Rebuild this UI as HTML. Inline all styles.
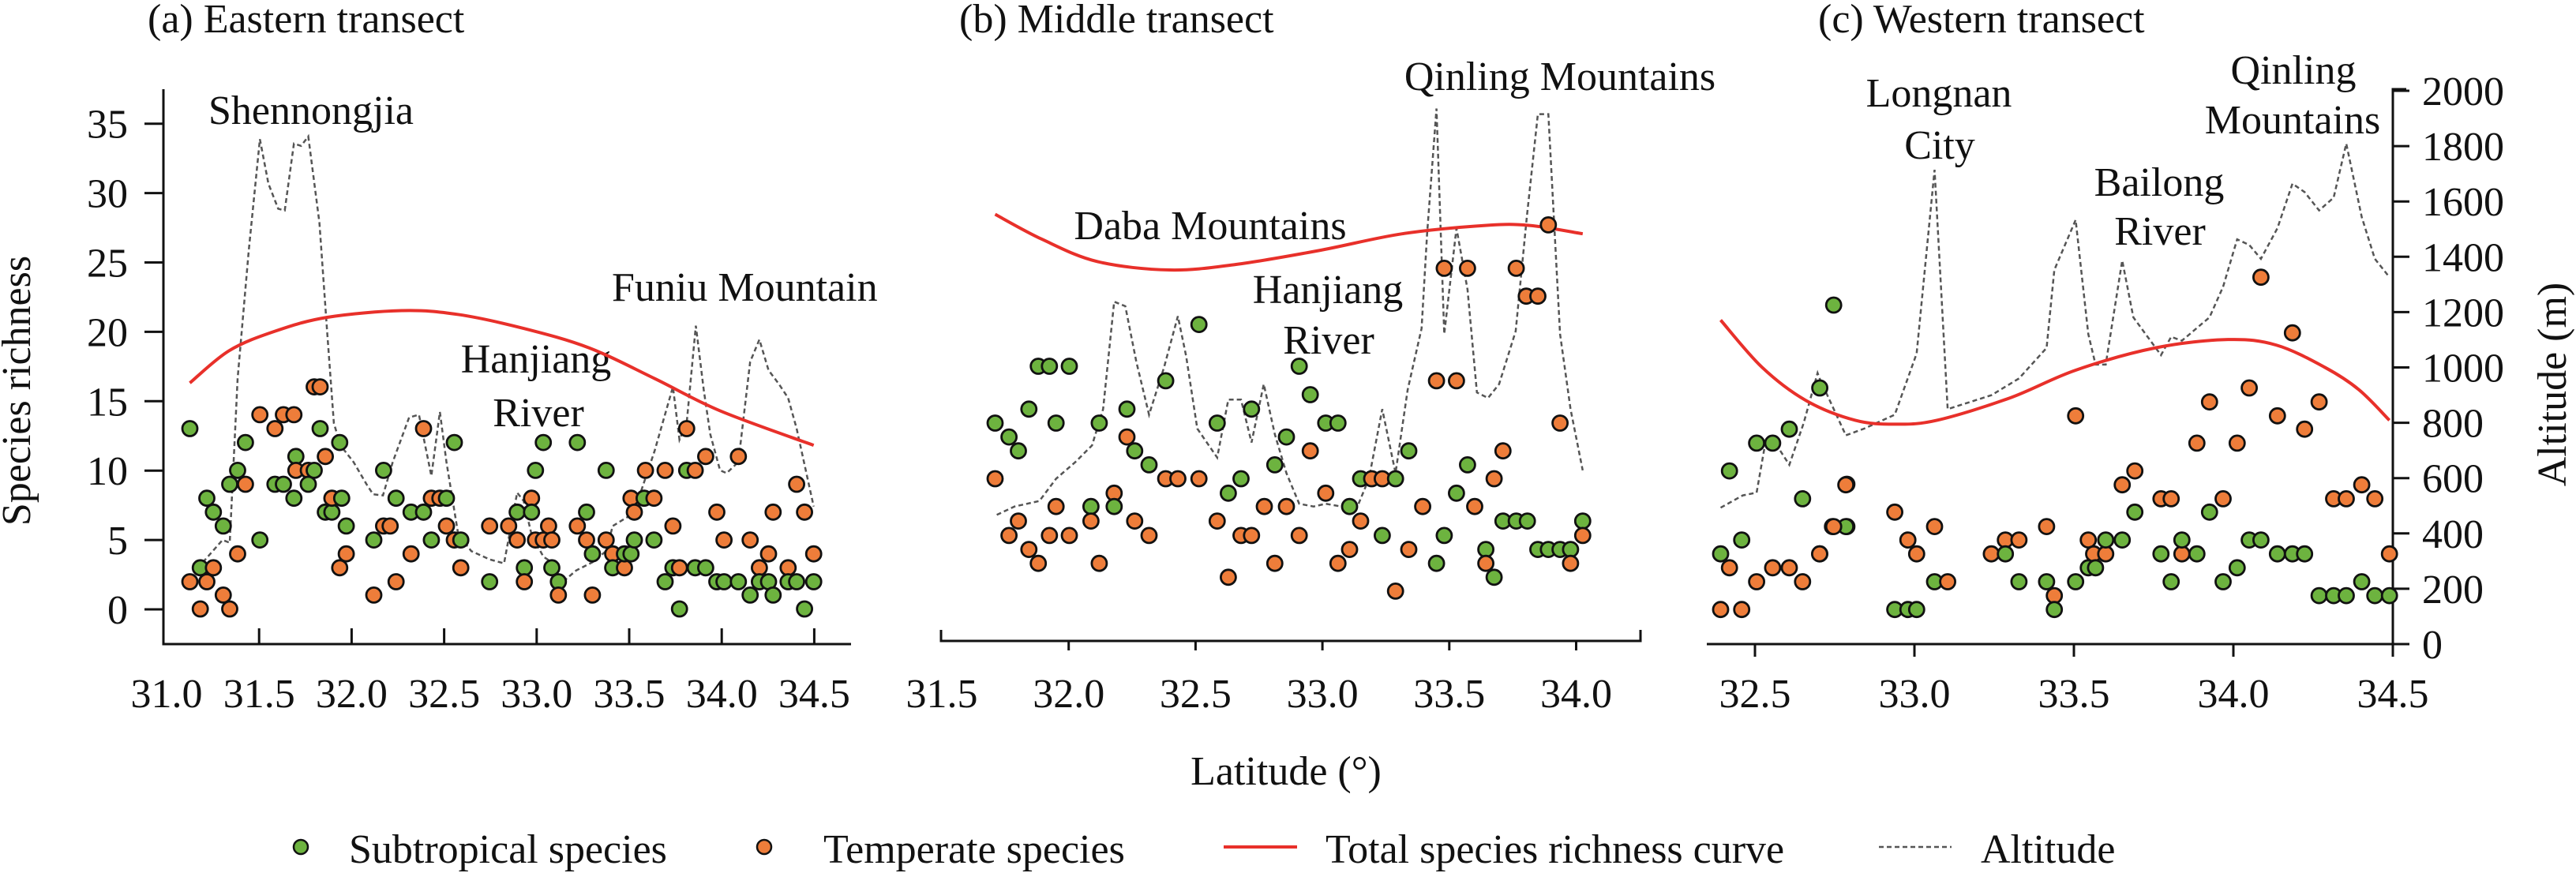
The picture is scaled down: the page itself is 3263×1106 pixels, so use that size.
<!DOCTYPE html>
<html><head><meta charset="utf-8"><style>
body{margin:0;background:#fff}
svg{display:block}
svg text{font-family:"Liberation Serif","DejaVu Serif","Times New Roman",serif;fill:#111}
</style></head><body>
<svg id="s" width="3263" height="1106" viewBox="0 0 3263 1106" xmlns="http://www.w3.org/2000/svg" font-family="Liberation Serif, DejaVu Serif, serif">
<g font-size="52">
<text x="187" y="41">(a) Eastern transect</text>
<text x="1215" y="41">(b) Middle transect</text>
<text x="2303" y="41">(c) Western transect</text>
<text x="264" y="157">Shennongjia</text>
<text x="775" y="381">Funiu Mountain</text>
<text x="679" y="472" text-anchor="middle">Hanjiang</text>
<text x="682" y="540" text-anchor="middle">River</text>
<text x="1976" y="114" text-anchor="middle">Qinling Mountains</text>
<text x="1533" y="303" text-anchor="middle">Daba Mountains</text>
<text x="1682" y="384" text-anchor="middle">Hanjiang</text>
<text x="1683" y="448" text-anchor="middle">River</text>
<text x="2456" y="135" text-anchor="middle">Longnan</text>
<text x="2457" y="201" text-anchor="middle">City</text>
<text x="2735" y="248" text-anchor="middle">Bailong</text>
<text x="2736" y="310" text-anchor="middle">River</text>
<text x="2905" y="106" text-anchor="middle">Qinling</text>
<text x="2904" y="169" text-anchor="middle">Mountains</text>
<text transform="translate(38,495) rotate(-90)" text-anchor="middle">Species richness</text>
<text transform="translate(3250,487) rotate(-90)" text-anchor="middle">Altitude (m)</text>
<text x="1629" y="994" text-anchor="middle">Latitude (°)</text>
<text x="442" y="1093">Subtropical species</text>
<text x="1043" y="1093">Temperate species</text>
<text x="1679" y="1093">Total species richness curve</text>
<text x="2509" y="1093">Altitude</text>
</g>
<g id="g"></g>
</svg>
<script>
var NS="http://www.w3.org/2000/svg",G=document.getElementById("g");
function el(n,a,t){var e=document.createElementNS(NS,n);for(var k in a)e.setAttribute(k,a[k]);if(t!==undefined)e.textContent=t;G.appendChild(e);return e;}
var ax={stroke:"#111","stroke-width":3,fill:"none"};
el("path",Object.assign({d:"M207,113V816H1078"},ax));
[0,5,10,15,20,25,30,35].forEach(function(v){var y=772-v*17.58;el("path",Object.assign({d:"M183,"+y+"H207"},ax));el("text",{x:162,y:y+18,"text-anchor":"end","font-size":52},String(v));});
for(var i=0;i<8;i++){var x=211+i*117.2;if(i>0)el("path",Object.assign({d:"M"+x+",816V796"},ax));el("text",{x:x,y:896,"text-anchor":"middle","font-size":52},(31+i*0.5).toFixed(1));}
el("path",Object.assign({d:"M1192,798V812H2078V798"},ax));
for(var i=0;i<6;i++){var x=1193+i*160.7;if(i>0)el("path",Object.assign({d:"M"+x+",812V824"},ax));el("text",{x:x,y:896,"text-anchor":"middle","font-size":52},(31.5+i*0.5).toFixed(1));}
el("path",Object.assign({d:"M2162,816H3031V113H3048"},ax));
for(var i=0;i<5;i++){var x=2223+i*202;el("path",Object.assign({d:"M"+x+",816V832"},ax));el("text",{x:x,y:896,"text-anchor":"middle","font-size":52},(32.5+i*0.5).toFixed(1));}
for(var i=0;i<=10;i++){var y=816-i*70.1;el("path",Object.assign({d:"M3031,"+y+"H3052"},ax));el("text",{x:3068,y:y+18,"font-size":52},String(i*200));}
function conv(arr,sx,ox){return arr.map(function(p){return [p[0]/sx+ox,p[1]/1.418];});}
function line(pts,style){el("path",Object.assign({d:"M"+pts.map(function(p){return p[0].toFixed(1)+","+p[1].toFixed(1);}).join("L"),fill:"none"},style));}
function smooth(p,style){var d="M"+p[0][0]+","+p[0][1];for(var i=0;i<p.length-1;i++){var p0=p[Math.max(0,i-1)],p1=p[i],p2=p[i+1],p3=p[Math.min(p.length-1,i+2)];var c1=[p1[0]+(p2[0]-p0[0])/6,p1[1]+(p2[1]-p0[1])/6],c2=[p2[0]-(p3[0]-p1[0])/6,p2[1]-(p3[1]-p1[1])/6];d+="C"+c1.join(",")+" "+c2.join(",")+" "+p2.join(",");}el("path",Object.assign({d:d,fill:"none"},style));}
var alt={stroke:"#555","stroke-width":2.5,"stroke-dasharray":"6,4"};
var red={stroke:"#e8302a","stroke-width":4};
var A=[["g",290,770],["o",290,1045],["g",306,1020],["o",306,1094],["o",316,1045],["g",316,895],["o",326,1020],["g",326,920],["g",341,945],["o",341,1069],["o",351,1094],["g",351,870],["g",363,845],["o",363,995],["g",375,795],["o",375,870],["g",397,970],["o",397,745],["o",420,770],["g",420,870],["o",433,745],["g",433,870],["o",449,745],["g",449,895],["g",452,820],["o",452,845],["o",471,845],["g",471,870],["g",480,845],["o",480,695],["o",489,695],["g",489,770],["o",497,820],["g",497,920],["g",507,920],["o",507,895],["g",519,795],["g",522,895],["o",519,1020],["o",529,995],["g",529,945],["g",571,970],["o",571,1069],["g",586,845],["o",586,945],["o",596,945],["g",605,895],["o",605,1045],["g",628,920],["o",628,995],["g",647,920],["o",647,770],["g",659,970],["o",659,895],["o",672,895],["g",682,895],["o",682,945],["g",694,795],["o",694,970],["g",704,970],["o",704,1020],["o",748,945],["g",748,1045],["o",777,945],["g",790,920],["o",790,970],["o",812,895],["g",812,920],["g",801,1020],["o",801,1045],["g",818,845],["o",818,970],["g",830,795],["o",830,970],["o",838,945],["o",843,970],["g",843,1020],["g",853,1045],["o",853,1069],["g",882,795],["o",882,945],["g",896,920],["o",896,970],["g",905,995],["o",905,1069],["g",926,845],["o",926,970],["o",936,995],["g",936,1020],["o",954,1020],["g",954,995],["g",964,995],["o",964,895],["g",969,970],["o",969,920],["g",984,895],["o",986,845],["o",999,895],["g",999,970],["o",1016,845],["g",1016,1045],["o",1028,945],["g",1028,1020],["o",1038,1020],["g",1038,1094],["g",1049,845],["o",1049,770],["o",1062,845],["g",1062,1020],["g",1078,1020],["o",1078,820],["o",1095,920],["g",1095,1045],["g",1106,1045],["o",1106,970],["g",1128,1045],["o",1128,820],["o",1146,970],["g",1146,1069],["o",1160,1020],["g",1160,1045],["g",1174,1045],["o",1174,995],["o",1181,920],["g",1181,1069],["o",1204,1020],["g",1204,1045],["o",1217,870],["g",1217,1045],["o",1229,920],["g",1229,1094],["g",1243,1045],["o",1243,995]];
var Aalt=[[310,1010],[340,970],[351,975],[363,680],[380,450],[397,250],[410,330],[425,375],[435,378],[449,258],[460,262],[471,245],[488,400],[500,600],[510,760],[520,800],[540,830],[560,870],[570,888],[585,890],[600,830],[625,750],[640,745],[659,855],[672,740],[682,830],[700,960],[720,990],[748,1005],[770,1012],[790,885],[800,900],[812,960],[830,1000],[843,1010],[860,1045],[880,1025],[905,1010],[926,990],[936,945],[964,925],[980,880],[1000,810],[1028,695],[1038,790],[1049,760],[1063,585],[1075,700],[1085,780],[1100,845],[1110,850],[1128,830],[1146,650],[1160,610],[1174,665],[1190,690],[1204,715],[1217,770],[1243,910]];
var Ared=[[290,688],[350,630],[420,595],[500,570],[615,558],[700,565],[800,590],[900,625],[1000,680],[1100,738],[1243,800]];
var B=[["o",15,860],["g",15,760],["g",40,785],["o",40,962],["g",57,810],["o",57,936],["g",76,735],["o",76,987],["g",93,658],["o",93,1012],["g",113,658],["o",113,962],["g",125,760],["o",125,910],["g",149,658],["o",149,962],["g",188,910],["o",188,936],["g",203,760],["o",203,1012],["o",230,886],["g",230,910],["g",253,735],["o",253,785],["g",267,810],["o",267,936],["g",293,835],["o",293,962],["g",323,684],["o",323,860],["o",345,860],["g",383,583],["o",383,860],["g",416,760],["o",416,936],["g",436,886],["o",436,1037],["g",459,860],["o",459,962],["o",478,962],["g",478,735],["o",501,910],["g",520,835],["o",520,1012],["g",541,785],["o",541,910],["g",564,658],["o",564,962],["g",584,709],["o",584,810],["g",612,760],["o",612,886],["g",634,760],["o",634,1012],["o",655,987],["g",655,910],["o",675,936],["g",675,860],["o",695,860],["o",714,860],["g",714,962],["g",738,860],["o",738,1062],["g",762,810],["o",762,987],["o",787,910],["o",812,684],["g",812,1012],["o",826,482],["g",826,962],["o",848,684],["g",848,886],["o",868,482],["g",868,835],["o",881,910],["g",901,987],["o",901,1012],["o",916,860],["g",916,1037],["o",932,810],["g",932,936],["o",956,482],["g",956,936],["o",974,532],["g",976,936],["o",995,532],["g",995,987],["g",1014,987],["o",1014,404],["g",1035,987],["o",1035,760],["g",1054,987],["o",1054,1012],["g",1076,936],["o",1076,962]];
var Balt=[[18,925],[50,910],[95,900],[125,860],[160,830],[190,800],[210,735],[230,542],[250,550],[270,650],[293,745],[320,660],[345,568],[360,640],[380,770],[416,822],[436,718],[459,718],[478,795],[500,690],[520,780],[541,850],[564,905],[590,910],[612,905],[640,910],[665,920],[690,860],[714,735],[738,850],[760,700],[785,590],[795,420],[812,195],[826,600],[848,410],[868,520],[885,705],[905,715],[925,690],[955,595],[975,390],[995,205],[1014,205],[1035,600],[1054,735],[1076,845]];
var Bred=[[15,385],[100,430],[200,470],[330,485],[450,475],[600,450],[750,420],[900,405],[980,405],[1076,420]];
var C2=[["g",1325,995],["o",1325,1095],["o",1341,1020],["g",1341,846],["g",1363,970],["o",1363,1095],["g",1390,796],["o",1390,1045],["g",1419,796],["o",1419,1020],["g",1449,771],["o",1449,1020],["g",1473,896],["o",1473,1045],["g",1504,697],["o",1504,995],["o",1527,946],["g",1553,946],["o",1553,870]];
var C=[["g",37,548],["o",62,871],["g",62,946],["o",37,946],["o",8,995],["o",163,920],["g",163,1095],["o",190,970],["g",190,1095],["o",208,995],["g",208,1095],["o",245,946],["g",245,1045],["o",272,1045],["o",362,995],["o",391,970],["g",391,995],["o",419,970],["g",419,1045],["o",476,946],["g",476,1045],["o",492,1070],["g",492,1095],["o",536,747],["g",536,1045],["o",562,970],["g",562,1020],["o",573,995],["g",577,1020],["o",598,995],["g",598,970],["o",632,871],["g",632,970],["o",658,846],["g",658,920],["o",712,896],["g",712,995],["o",733,896],["g",733,1045],["o",755,995],["g",755,970],["o",786,796],["g",786,995],["o",812,722],["g",812,920],["o",840,896],["g",840,1045],["o",869,796],["g",869,1020],["o",894,697],["g",894,970],["o",918,498],["g",918,970],["o",952,747],["g",952,995],["o",983,598],["g",983,995],["o",1008,771],["g",1008,995],["o",1038,722],["g",1038,1070],["o",1068,896],["g",1068,1070],["o",1094,896],["g",1094,1070],["o",1126,871],["g",1126,1045],["o",1153,896],["g",1153,1070],["o",1183,995],["g",1183,1070]];
var C2alt=[[1325,912],[1365,890],[1390,885],[1405,800],[1420,790],[1449,835],[1475,760],[1500,670]];
var Calt=[[8,680],[62,782],[100,770],[163,745],[208,635],[245,305],[272,735],[362,710],[419,680],[476,625],[492,485],[536,395],[562,600],[577,655],[598,655],[632,468],[655,570],[712,638],[733,605],[755,612],[812,570],[840,515],[869,430],[894,440],[918,465],[952,410],[983,330],[1008,345],[1038,378],[1068,355],[1094,258],[1126,390],[1153,465],[1183,498]];
var C2red=[[1325,575],[1400,660],[1480,720],[1568,755]];
var Cred=[[163,762],[250,755],[400,715],[536,665],[700,625],[850,610],[950,620],[1050,660],[1120,700],[1183,755]];
var s1=1.206,s2=1.4255,s3=1.628;
line(conv(Aalt,s1,0),alt);line(conv(Balt,s2,1250),alt);
line(conv(C2alt,s2,1250).concat(conv(Calt,s3,2300)),alt);
smooth(conv(Ared,s1,0),red);smooth(conv(Bred,s2,1250),red);
smooth(conv(C2red,s2,1250).concat(conv(Cred,s3,2300)),red);
function dots(arr,sx,ox){arr.forEach(function(p){el("circle",{cx:(p[1]/sx+ox).toFixed(1),cy:(p[2]/1.418).toFixed(1),r:9.5,fill:p[0]=="g"?"#6db33f":"#ee7d3a",stroke:"#111","stroke-width":2.8});});}
dots(A,s1,0);dots(B,s2,1250);dots(C2,s2,1250);dots(C,s3,2300);
el("circle",{cx:381,cy:1073,r:9,fill:"#6db33f",stroke:"#111","stroke-width":2.5});
el("circle",{cx:968,cy:1073,r:9,fill:"#ee7d3a",stroke:"#111","stroke-width":2.5});
el("path",Object.assign({d:"M1550,1073H1643"},red));
el("path",Object.assign({d:"M2380,1073H2472",fill:"none"},alt));
</script>
</body></html>
